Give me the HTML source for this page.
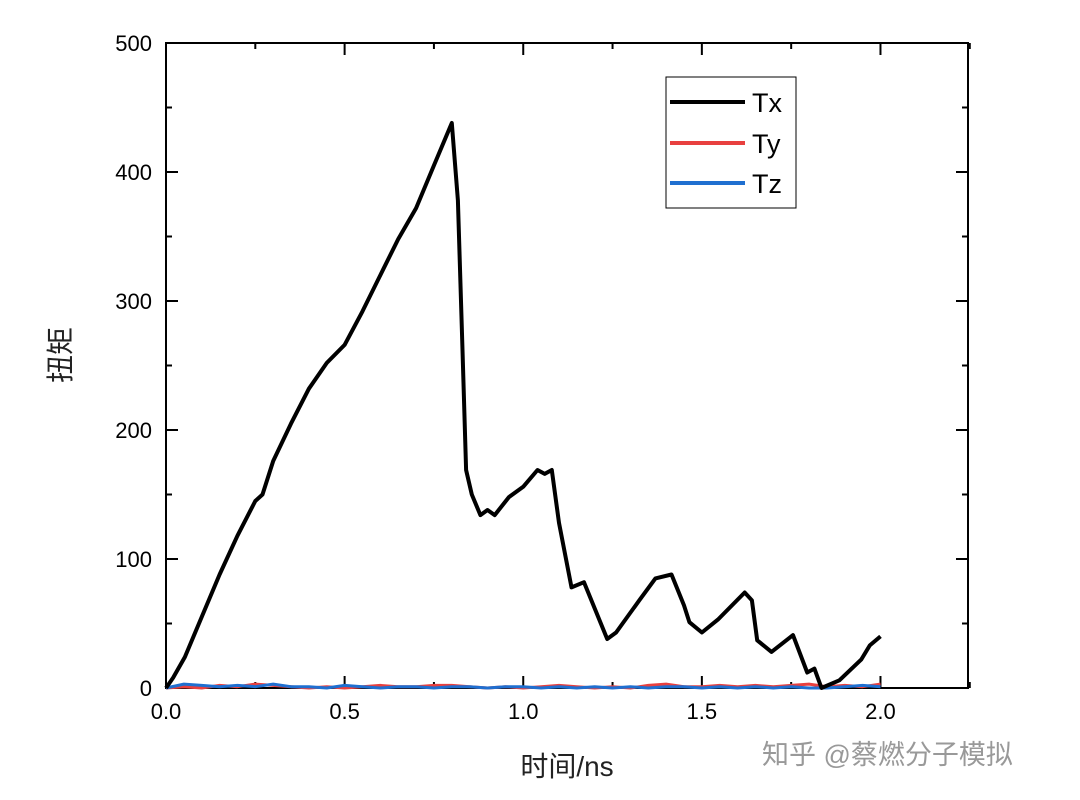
<!DOCTYPE html>
<html><head><meta charset="utf-8"><style>
html,body{margin:0;padding:0;background:#fff;width:1080px;height:800px;overflow:hidden}
svg text{font-family:"Liberation Sans","Noto Sans CJK SC",sans-serif}
</style></head><body>
<svg id="chart" width="1080" height="800" xmlns="http://www.w3.org/2000/svg">
<g id="axes"></g>
<g id="series"></g>
<g>
<rect x="666" y="77" width="130" height="131" fill="#fff" stroke="#000" stroke-width="1"/>
<line x1="670" y1="102" x2="745" y2="102" stroke="#000" stroke-width="4"/>
<text x="752" y="112" font-size="27">Tx</text>
<line x1="670" y1="143" x2="745" y2="143" stroke="#e8403f" stroke-width="4"/>
<text x="752" y="153" font-size="27">Ty</text>
<line x1="670" y1="183" x2="745" y2="183" stroke="#1f6fd0" stroke-width="4"/>
<text x="752" y="193" font-size="27">Tz</text>
</g>
<text transform="translate(70,355) rotate(-90)" text-anchor="middle" font-size="28" fill="#222">扭矩</text>
<text x="567" y="776" text-anchor="middle" font-size="28" fill="#222">时间/ns</text>
<text x="762" y="764" font-size="27" fill="#999">知乎 @蔡燃分子模拟</text>
</svg>
<script>
const xTicks=["0.0","0.5","1.0","1.5","2.0"];
const yTicks=["0","100","200","300","400","500"];
const txTime=[0,0.02,0.053,0.1,0.15,0.2,0.25,0.27,0.3,0.35,0.4,0.45,0.5,0.55,0.6,0.65,0.7,0.75,0.8,0.817,0.83,0.84,0.856,0.88,0.9,0.92,0.96,1.0,1.04,1.06,1.08,1.1,1.135,1.17,1.235,1.26,1.325,1.37,1.415,1.45,1.465,1.5,1.545,1.62,1.64,1.655,1.695,1.755,1.795,1.815,1.835,1.885,1.946,1.97,2.0];
const txValues=[0,8,24,55,88,118,145,150,176,205,232,252,266,292,320,348,372,405,438,378,262,169,150,134,138,134,148,156,169,166,169,128,78,82,38,43,68,85,88,64,51,43,53,74,68,37,28,41,12,15,0,6,22,33,40];
const noiseTime=[0,0.05,0.1,0.15,0.2,0.25,0.3,0.35,0.4,0.45,0.5,0.55,0.6,0.65,0.7,0.75,0.8,0.85,0.9,0.95,1.0,1.05,1.1,1.15,1.2,1.25,1.3,1.35,1.4,1.45,1.5,1.55,1.6,1.65,1.7,1.75,1.8,1.85,1.9,1.95,2.0];
const tyValues=[0,1,0,2,1,3,2,1,0,1,0,1,2,1,1,2,2,1,0,1,0,1,2,1,0,1,0,2,3,1,1,2,1,2,1,2,3,1,2,1,3];
const tzValues=[0,3,2,1,2,1,3,1,1,0,2,1,0,1,1,0,1,1,0,1,1,0,1,0,1,0,1,0,1,1,0,1,0,1,0,1,0,0,1,2,1];
const NS="http://www.w3.org/2000/svg";
const X0=166,X1=968,Y0=688,Y1=43,XMAX=2.245,YMAX=500;
const sx=t=>X0+t/XMAX*(X1-X0);
const sy=v=>Y0-v/YMAX*(Y0-Y1);
function mk(tag,attrs,parent){const e=document.createElementNS(NS,tag);for(const k in attrs)e.setAttribute(k,attrs[k]);parent.appendChild(e);return e;}
const axes=document.getElementById('axes');
const frame=mk('rect',{x:X0,y:Y1,width:X1-X0,height:Y0-Y1,fill:'none',stroke:'#000','stroke-width':2},axes);


for(let i=0;i<=9;i++){const t=i*0.25;const x=sx(t);const L=i%2===0?12:6;
 const a=mk('line',{x1:x,y1:Y0,x2:x,y2:Y0-L,stroke:'#000','stroke-width':2},axes);
 
 
 const b=mk('line',{x1:x,y1:Y1,x2:x,y2:Y1+L,stroke:'#000','stroke-width':2},axes);
 
 }
xTicks.forEach(s=>{const tx=mk('text',{x:sx(parseFloat(s)),y:Y0+31,'text-anchor':'middle','font-size':22},axes);tx.textContent=s;
 
 });
for(let i=0;i<=10;i++){const v=i*50;const y=sy(v);const L=i%2===0?12:6;
 const a=mk('line',{x1:X0,y1:y,x2:X0+L,y2:y,stroke:'#000','stroke-width':2},axes);
 
 
 const b=mk('line',{x1:X1,y1:y,x2:X1-L,y2:y,stroke:'#000','stroke-width':2},axes);
 
 }
yTicks.forEach(s=>{const tx=mk('text',{x:X0-14,y:sy(parseFloat(s))+8,'text-anchor':'end','font-size':22},axes);tx.textContent=s;
 
 });
const series=document.getElementById('series');
function line(ts,vs,color,w,name){const d=ts.map((t,i)=>(i?'L':'M')+sx(t).toFixed(1)+','+sy(vs[i]).toFixed(1)).join('');
 const p=mk('path',{d:d,fill:'none',stroke:color,'stroke-width':w,'stroke-linejoin':'round'},series);
 
 }
line(noiseTime,tyValues,'#e8403f',3,'series-ty');
line(noiseTime,tzValues,'#1f6fd0',3,'series-tz');
line(txTime,txValues,'#000',4,'series-tx');
</script>
</body></html>
